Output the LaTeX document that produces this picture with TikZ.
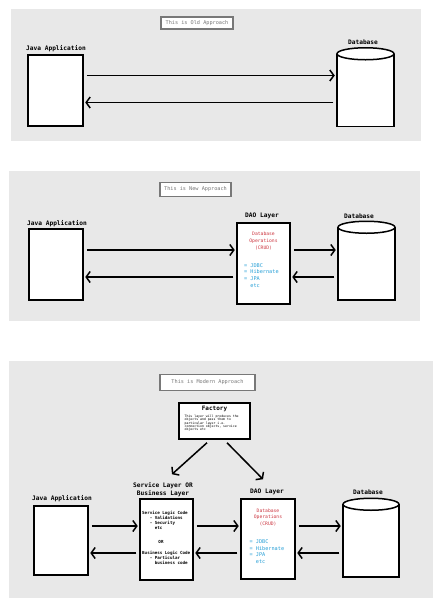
\documentclass[tikz,border=0pt]{standalone}
\usepackage{fontspec}
\setmonofont{DejaVu Sans Mono}
\usetikzlibrary{arrows.meta}
\definecolor{panelbg}{RGB}{232,232,232}
\definecolor{titlegray}{RGB}{120,120,120}
\definecolor{opred}{RGB}{205,55,65}
\definecolor{techblue}{RGB}{40,160,215}
\tikzset{
  panel/.style={fill=panelbg, draw=none},
  titlebox/.style={draw=titlegray, line width=1.2pt, fill=white, inner sep=0pt,
    font=\ttfamily\fontsize{5.2}{6}\selectfont, text=titlegray},
  blockbox/.style={draw=black, line width=1.5pt, fill=white, inner sep=0pt},
  lbl/.style={font=\ttfamily\bfseries\fontsize{6.2}{8}\selectfont, inner sep=0pt, align=center},
  arr/.style={line width=1.5pt, -{Straight Barb[length=4pt,width=11pt]}, shorten <=3pt, shorten >=1.5pt},
  crud/.style={font=\ttfamily\fontsize{4.7}{6.7}\selectfont, text=opred, align=center, inner sep=0pt},
  tech/.style={font=\ttfamily\fontsize{5.2}{6.7}\selectfont, text=techblue, align=left, inner sep=0pt, anchor=north west},
  svctext/.style={font=\ttfamily\bfseries\fontsize{4.2}{5}\selectfont, align=left, inner sep=0pt, anchor=north west},
  factext/.style={font=\ttfamily\fontsize{3.2}{3.1}\selectfont, align=left, inner sep=0pt, anchor=north west},
}
\begin{document}
\begin{tikzpicture}[x=1pt,y=-1pt]
\useasboundingbox[fill=white] (0,0) rectangle (439,603);

% ---------- Panel 1 ----------
\fill[panel] (11,9) rectangle (421,141);
\node[titlebox, minimum width=72, minimum height=12] (t1) at (197,23) {This is Old Approach};
\node[lbl] (j1l) at (56,49) {Java Application};
\node[blockbox, minimum width=55, minimum height=71] (java1) at (55.5,90.5) {};
\node[lbl] (d1l) at (363,42) {Database};
\node[blockbox, minimum width=57, minimum height=72] (db1) at (365.5,90.5) {};
\draw[line width=1.5pt, fill=white] (db1.north) ellipse [x radius=28.5, y radius=6];
\draw[arr] ([yshift=15pt]java1.east) -- ([yshift=15pt]db1.west);
\draw[arr] ([yshift=-12pt]db1.west) -- ([yshift=-12pt]java1.east);

% ---------- Panel 2 ----------
\fill[panel] (9,171) rectangle (420,321);
\node[titlebox, minimum width=71, minimum height=14] (t2) at (195.5,189.5) {This is New Approach};
\node[lbl] (j2l) at (57,224) {Java Application};
\node[blockbox, minimum width=54, minimum height=71] (java2) at (56,264.5) {};
\node[lbl] (dao2l) at (262,216) {DAO Layer};
\node[blockbox, minimum width=53, minimum height=81] (dao2) at (263.5,263.5) {};
\node[crud] (crud2) at (263.5,241) {Database\\Operations\\(CRUD)};
\node[tech] (tech2) at (244,263.2) {= JDBC\\= Hibernate\\= JPA\\~~etc};
\node[lbl] (d2l) at (359,216) {Database};
\node[blockbox, minimum width=57, minimum height=72] (db2) at (366.5,264) {};
\draw[line width=1.5pt, fill=white] (db2.north) ellipse [x radius=28.5, y radius=6];
\draw[arr] ([yshift=14.5pt]java2.east) -- ([yshift=13.5pt]dao2.west);
\draw[arr] ([yshift=-13.5pt]dao2.west) -- ([yshift=-12.5pt]java2.east);
\draw[arr] ([yshift=13.5pt]dao2.east) -- ([yshift=14pt]db2.west);
\draw[arr] ([yshift=-13pt]db2.west) -- ([yshift=-13.5pt]dao2.east);

% ---------- Panel 3 ----------
\fill[panel] (9,361) rectangle (433,598);
\node[titlebox, minimum width=95, minimum height=16] (t3) at (207.5,382.5) {This is Modern Approach};
\node[blockbox, minimum width=71, minimum height=36] (factory) at (214.5,421) {};
\node[lbl, font=\ttfamily\bfseries\fontsize{6}{8}\selectfont] (factl) at (214.5,409) {Factory};
\node[factext] (factt) at (184.5,414.8) {This layer will produces the\\objects and pass them to\\particular layer i.e.\\connection objects, service\\objects etc};

\node[lbl] (j3l) at (62,499) {Java Application};
\node[blockbox, minimum width=54, minimum height=69] (java3) at (61,540.5) {};

\node[lbl] (svcl) at (163,490) {Service Layer OR\\Business Layer};
\node[blockbox, minimum width=53, minimum height=81] (svc) at (166.5,539.5) {};
\node[svctext] (svc1) at (142,511.2) {Service Logic Code\\~~~- Validations\\~~~- Security\\~~~~~etc};
\node[svctext, anchor=center] (svcor) at (161,542) {OR};
\node[svctext] (svc2) at (142,550.7) {Business Logic Code\\~~~- Particular\\~~~~~business code};

\node[lbl] (dao3l) at (267,492) {DAO Layer};
\node[blockbox, minimum width=54, minimum height=80] (dao3) at (268,539) {};
\node[crud] (crud3) at (268,517.3) {Database\\Operations\\(CRUD)};
\node[tech] (tech3) at (249.5,539.3) {= JDBC\\= Hibernate\\= JPA\\~~etc};

\node[lbl] (d3l) at (368,492) {Database};
\node[blockbox, minimum width=56, minimum height=72] (db3) at (371,541) {};
\draw[line width=1.5pt, fill=white] (db3.north) ellipse [x radius=28, y radius=6];

\draw[arr, shorten <=0pt, shorten >=0pt] ([xshift=-7.5pt,yshift=-3pt]factory.south) -- ([xshift=5.5pt,yshift=24pt]svc.north);
\draw[arr, shorten <=0pt, shorten >=0pt] ([xshift=12.5pt,yshift=-3pt]factory.south) -- ([xshift=-5pt,yshift=19pt]dao3.north);

\draw[arr] ([yshift=14.5pt]java3.east) -- ([yshift=13.5pt]svc.west);
\draw[arr] ([yshift=-13.5pt]svc.west) -- ([yshift=-12.5pt]java3.east);
\draw[arr] ([yshift=13.5pt]svc.east) -- ([yshift=13pt]dao3.west);
\draw[arr] ([yshift=-14pt]dao3.west) -- ([yshift=-13.5pt]svc.east);
\draw[arr] ([yshift=13pt]dao3.east) -- ([yshift=15pt]db3.west);
\draw[arr] ([yshift=-12pt]db3.west) -- ([yshift=-14pt]dao3.east);
\end{tikzpicture}
\end{document}
